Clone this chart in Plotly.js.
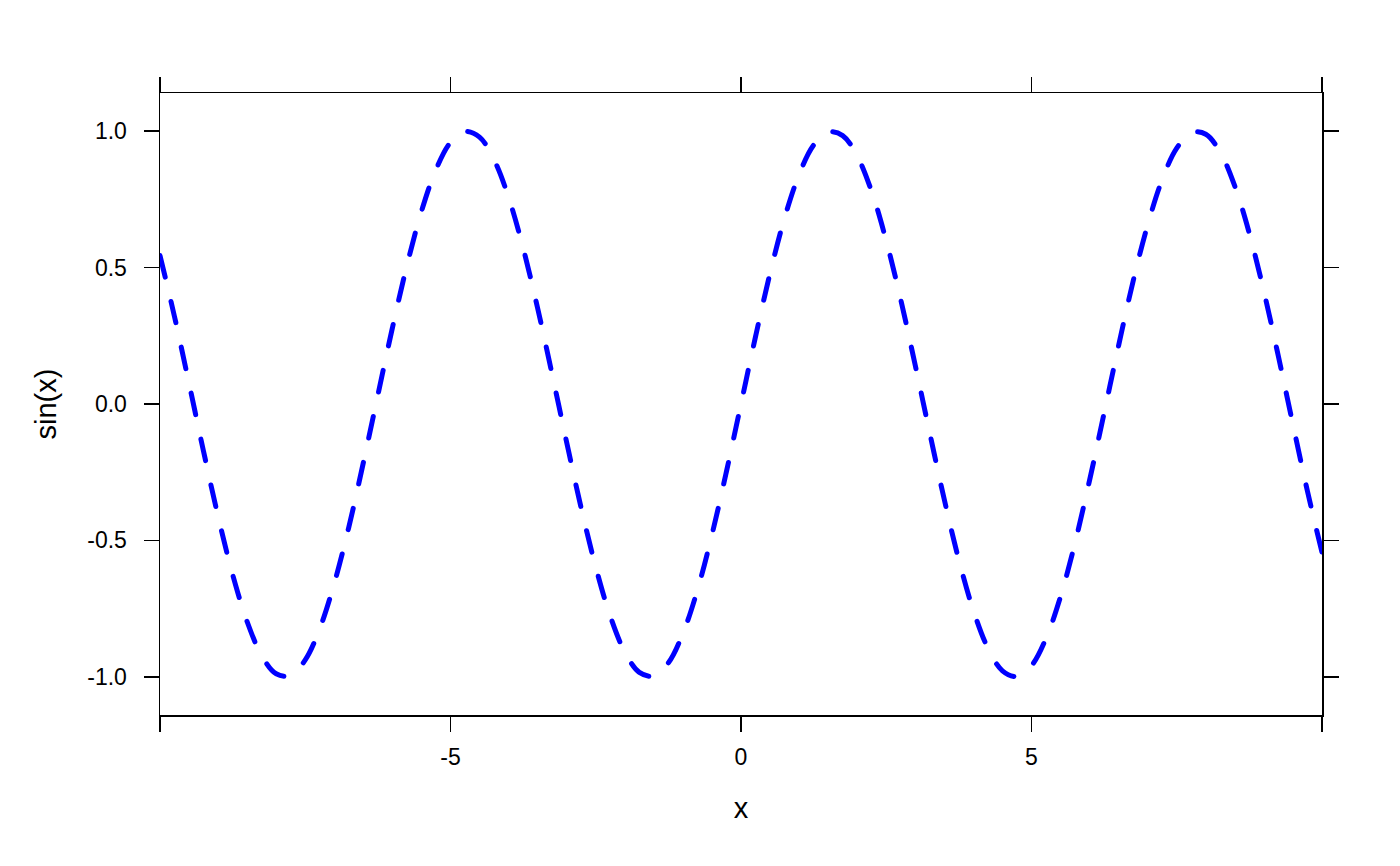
<!DOCTYPE html>
<html>
<head>
<meta charset="utf-8">
<script src="https://cdn.plot.ly/plotly-3.0.1.min.js"></script>
<style>
  html, body { margin: 0; padding: 0; background: #ffffff; }
  #plot { width: 1400px; height: 866px; }
  #plot path.js-line { stroke-linecap: round !important; }
</style>
</head>
<body>
<div id="plot"></div>
<script>

// curve values
var xValues = [
	-10, -9.75, -9.5, -9.25, -9, -8.75, -8.5, -8.25, -8, -7.75,
	-7.5, -7.25, -7, -6.75, -6.5, -6.25, -6, -5.75, -5.5, -5.25,
	-5, -4.75, -4.5, -4.25, -4, -3.75, -3.5, -3.25, -3, -2.75,
	-2.5, -2.25, -2, -1.75, -1.5, -1.25, -1, -0.75, -0.5, -0.25,
	0, 0.25, 0.5, 0.75, 1, 1.25, 1.5, 1.75, 2, 2.25,
	2.5, 2.75, 3, 3.25, 3.5, 3.75, 4, 4.25, 4.5, 4.75,
	5, 5.25, 5.5, 5.75, 6, 6.25, 6.5, 6.75, 7, 7.25,
	7.5, 7.75, 8, 8.25, 8.5, 8.75, 9, 9.25, 9.5, 9.75, 10
];

var yValues = [
	0.544, 0.320, 0.075, -0.174, -0.412, -0.625, -0.798, -0.922, -0.989, -0.995,
	-0.938, -0.823, -0.657, -0.451, -0.215, 0.033, 0.279, 0.508, 0.706, 0.859,
	0.959, 0.999, 0.978, 0.895, 0.757, 0.572, 0.351, 0.108, -0.141, -0.382,
	-0.598, -0.778, -0.909, -0.984, -0.997, -0.949, -0.841, -0.682, -0.479, -0.247,
	0, 0.247, 0.479, 0.682, 0.841, 0.949, 0.997, 0.984, 0.909, 0.778,
	0.598, 0.382, 0.141, -0.108, -0.351, -0.572, -0.757, -0.895, -0.978, -0.999,
	-0.959, -0.859, -0.706, -0.508, -0.279, -0.033, 0.215, 0.451, 0.657, 0.823,
	0.938, 0.995, 0.989, 0.922, 0.798, 0.625, 0.412, 0.174, -0.075, -0.320, -0.544
];

var xTickVals = [-10, -5, 0, 5, 10];
var xTickText = ['', '-5', '0', '5', ''];
var yTickVals = [-1, -0.5, 0, 0.5, 1];
var yTickText = ['-1.0', '-0.5', '0.0', '0.5', '1.0'];

var FONT = 'Liberation Sans, Arial, Helvetica, sans-serif';

var traces = [{
	x: xValues,
	y: yValues,
	type: 'scatter',
	mode: 'lines',
	line: { color: '#0000ff', width: 5, dash: '22px,25px', shape: 'spline', smoothing: 1 },
	hoverinfo: 'skip'
}];

var axisCommon = {
	showgrid: false,
	zeroline: false,
	showline: true,
	linecolor: '#000000',
	linewidth: 1.5,
	mirror: 'ticks',
	ticks: 'outside',
	ticklen: 15,
	tickwidth: 1.5,
	tickcolor: '#000000',
	tickmode: 'array',
	tickfont: { family: FONT, size: 23, color: '#000000' },
	automargin: false
};

var layout = {
	width: 1400,
	height: 866,
	margin: { l: 160, r: 78, t: 93, b: 151 },
	paper_bgcolor: '#ffffff',
	plot_bgcolor: '#ffffff',
	showlegend: false,
	xaxis: Object.assign({}, axisCommon, {
		range: [-10, 10],
		tickvals: xTickVals,
		ticktext: xTickText,
		ticklabelstandoff: 6,
		title: { text: 'x', font: { family: FONT, size: 29, color: '#000000' }, standoff: 28 }
	}),
	yaxis: Object.assign({}, axisCommon, {
		range: [-1.14, 1.14],
		tickvals: yTickVals,
		ticktext: yTickText,
		ticklabelstandoff: 12,
		title: { text: 'sin(x)', font: { family: FONT, size: 29, color: '#000000' }, standoff: 22 }
	})
};

Plotly.newPlot('plot', traces, layout, { displayModeBar: false, staticPlot: true });

</script>
</body>
</html>
